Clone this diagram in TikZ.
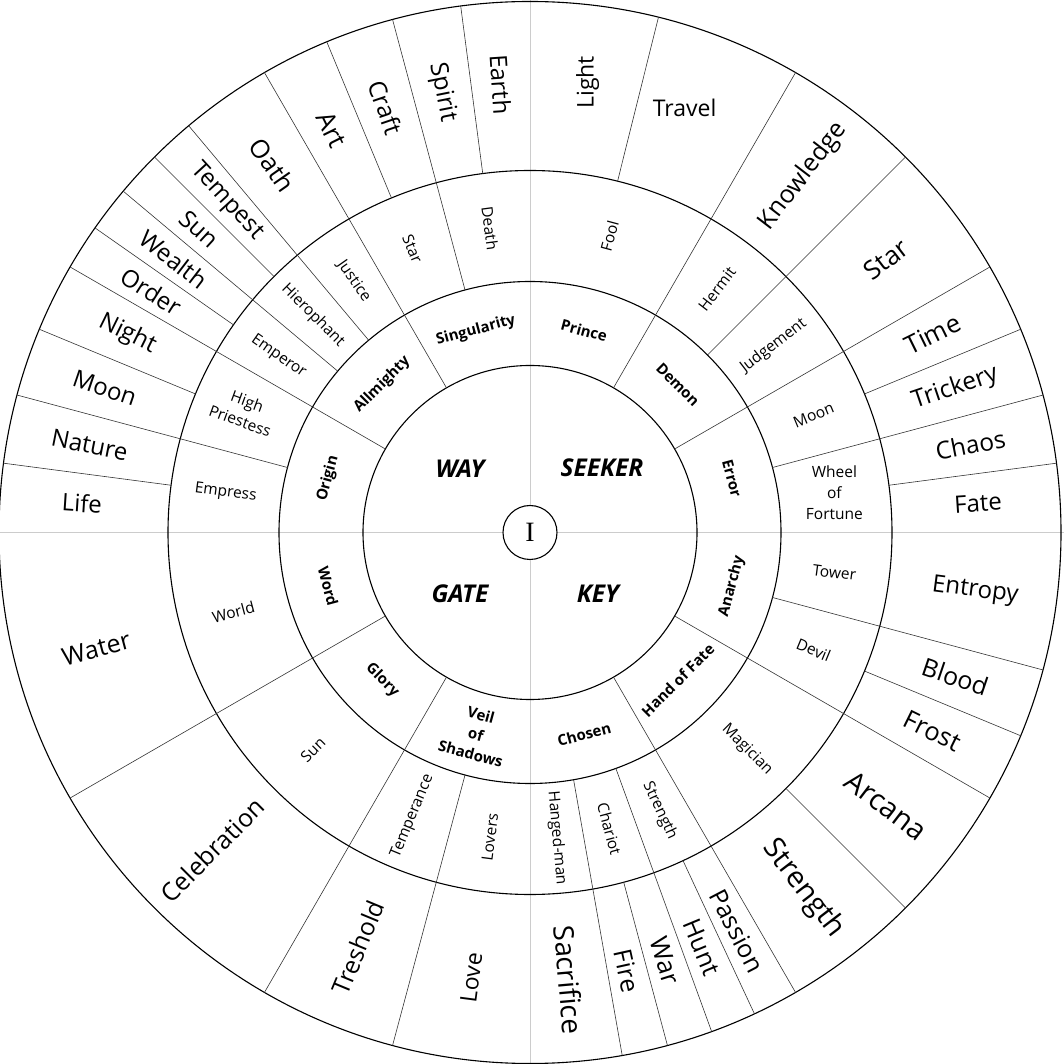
\documentclass[tikz,border=0pt]{standalone}
\usepackage{fontspec}
\setmainfont{Open Sans}
\newfontfamily\numeral{Liberation Serif}

\begin{document}
\begin{tikzpicture}[x=1pt,y=1pt,
  ring/.style={line width=1.1pt},
  spoke/.style={line width=0.6pt,black!80},
  axis/.style={line width=1pt,black!20},
  aspect/.style={font=\fontsize{#1}{28}\selectfont},
  arcanum/.style={font=\fontsize{15.5}{21}\selectfont,align=center},
  realm/.style={font=\bfseries\fontsize{15}{20}\selectfont,align=center},
  quarter/.style={font=\bfseries\itshape\fontsize{24.5}{28}\selectfont}]
 \useasboundingbox (-530,-531.5) rectangle (534,532.5);
 \coordinate (north) at (0,532.5);
 \coordinate (south) at (0,-531.5);
 \coordinate (west) at (-530,0);
 \coordinate (east) at (534,0);
 \node[circle,draw,line width=1.1pt,fill=white,minimum size=54pt,inner sep=0pt] (core) at (0,0) {\numeral\fontsize{28}{28}\selectfont I};
 \draw[axis] (core.north) -- (north) (core.south) -- (south)
   (core.west) -- (west) (core.east) -- (east);
 % rings
 \foreach \r in {531,362,251,167} \draw[ring] (0,0) circle (\r);
 % spokes
 \foreach \a in {30,60,120,150,210,240,300,330} \draw[spoke] (\a:167) -- (\a:531);
 \foreach \a in {15,45,105,130,140,165,255,280,290,345} \draw[spoke] (\a:251) -- (\a:531);
 \foreach \a in {7.5,22.5,76,97.5,112.5,135,145,157.5,172.5,285,295,315,337.5} \draw[spoke] (\a:362) -- (\a:531);
 % outer ring
 \foreach \a/\t/\s [count=\i] in {3.75/Fate/24,11.25/Chaos/24.5,18.75/Trickery/24.5,26.25/Time/25.5,
   37.5/Star/26,52.5/Knowledge/25,93.75/Earth/24,101.25/Spirit/24.5,108.75/Craft/24.5,116.25/Art/26,
   125/Oath/25.5,132.5/Tempest/24,137.5/Sun/24,142.5/Wealth/24,147.5/Order/24,153.75/Night/24,
   161.25/Moon/24,168.75/Nature/24,176.25/Life/24,195/Water/25,225/Celebration/25,
   247.5/Treshold/24.5,262.5/Love/23,275/Sacrifice/28,282.5/Fire/25,287.5/War/25.5,292.5/Hunt/25,
   297.5/Passion/25,307.5/Strength/29,322.5/Arcana/29,333.75/Frost/25.5,341.25/Blood/25,352.5/Entropy/24}{
   \pgfmathsetmacro\rot{(\a>90 && \a<270) ? \a-180 : \a}
   \node[aspect=\s,rotate=\rot] (aspect\i) at (\a:449) {\t};
 }
 \node[aspect=23] (travel) at (70:452) {Travel};
 \node[aspect=23,rotate=90] (light) at (82.7:454) {Light};
 % middle ring
 \foreach \a/\t [count=\i] in {22.5/Moon,37.5/Judgement,52.5/Hermit,75/Fool,97.5/Death,112.5/Star,
   125/Justice,135/Hierophant,145/Emperor,172.5/Empress,195/World,225/Sun,
   247.5/Temperance,262.5/Lovers,275/Hanged-man,285/Chariot,295/Strength,315/Magician,
   337.5/Devil,352.5/Tower}{
   \pgfmathsetmacro\rot{(\a>90 && \a<270) ? \a-180 : \a}
   \node[arcanum,rotate=\rot] (arcanum\i) at (\a:307) {\t};
 }
 \node[arcanum] (wheel) at (7.5:307) {Wheel\\of\\Fortune};
 \node[arcanum,rotate=-20] (priestess) at (157:311) {High\\Priestess};
 % inner ring
 \foreach \a/\t [count=\i] in {15/Error,45/Demon,75/Prince,105/Singularity,135/Allmighty,165/Origin,
   195/Word,225/Glory,255/{Veil\\of\\Shadows},285/Chosen,315/Hand of Fate,345/Anarchy}{
   \pgfmathsetmacro\rot{\a<180 ? \a-90 : \a+90}
   \node[realm,rotate=\rot] (realm\i) at (\a:209) {\t};
 }
 % centre
 \node[quarter] (way) at (-70,64) {WAY};
 \node[quarter] (seeker) at (72,65) {SEEKER};
 \node[quarter] (gate) at (-70,-61) {GATE};
 \node[quarter] (key) at (68,-61) {KEY};
\end{tikzpicture}
\end{document}
